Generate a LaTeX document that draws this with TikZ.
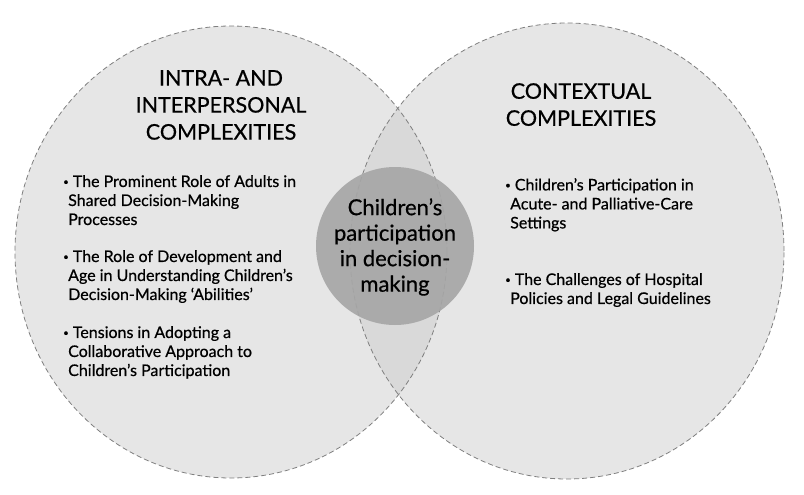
\documentclass[tikz,border=0pt]{standalone}
\usepackage{fontspec}
\setmainfont{Lato}[UprightFeatures={FakeBold=0.6}]
\definecolor{setfill}{HTML}{E6E6E6}
\definecolor{overlapfill}{HTML}{D9D9D9}
\definecolor{corefill}{HTML}{A6A6A6}
\definecolor{rimline}{HTML}{7F7F7F}
\newcommand{\dotmark}{\raisebox{0.12em}{\scalebox{0.6}{\textbullet}}\ }
\begin{document}
\begin{tikzpicture}[x=1pt,y=-1pt,
    heading/.style={align=center,anchor=north,inner sep=0pt,font=\fontsize{21.5}{27}\selectfont},
    item/.style={align=left,anchor=north west,inner sep=0pt,font=\fontsize{16}{19}\selectfont},
    rim/.style={draw=rimline,dashed,line width=0.8pt,dash pattern=on 5pt off 3pt}]
    \useasboundingbox (0,0) rectangle (804,495);

    % the two sets
    \fill[setfill] (231,252) ellipse [x radius=216pt,y radius=226pt];
    \fill[setfill] (567,251) ellipse [x radius=217pt,y radius=228pt];
    \begin{scope}
        \clip (231,252) ellipse [x radius=216pt,y radius=226pt];
        \fill[overlapfill] (567,251) ellipse [x radius=217pt,y radius=228pt];
    \end{scope}
    \draw[rim] (231,252) ellipse [x radius=216pt,y radius=226pt];
    \draw[rim] (567,251) ellipse [x radius=217pt,y radius=228pt];

    % the core
    \fill[corefill,fill opacity=0.92] (395,246) circle [radius=79pt];
    \node[align=center,font=\fontsize{22}{25.5}\selectfont] (core) at (395,247)
        {Children’s\\participation\\in decision-\\making};

    % left set
    \node[heading] (intra) at (221,70) {INTRA- AND\\INTERPERSONAL\\COMPLEXITIES};
    \node[item] (adults) at (63,175) {\dotmark The Prominent Role of Adults in\\
        \hspace*{5pt}Shared Decision-Making\\\hspace*{5pt}Processes};
    \node[item] (age) at (63,250) {\dotmark The Role of Development and\\
        \hspace*{5pt}Age in Understanding Children’s\\\hspace*{5pt}Decision-Making ‘Abilities’};
    \node[item] (tension) at (63,326) {\dotmark Tensions in Adopting a\\
        \hspace*{5pt}Collaborative Approach to\\\hspace*{5pt}Children’s Participation};

    % right set
    \node[heading] (context) at (581,83) {CONTEXTUAL\\COMPLEXITIES};
    \node[item] (care) at (505,178) {\dotmark Children’s Participation in\\
        \hspace*{5pt}Acute- and Palliative-Care\\\hspace*{5pt}Settings};
    \node[item] (policy) at (505,273) {\dotmark The Challenges of Hospital\\
        \hspace*{5pt}Policies and Legal Guidelines};
\end{tikzpicture}
\end{document}
